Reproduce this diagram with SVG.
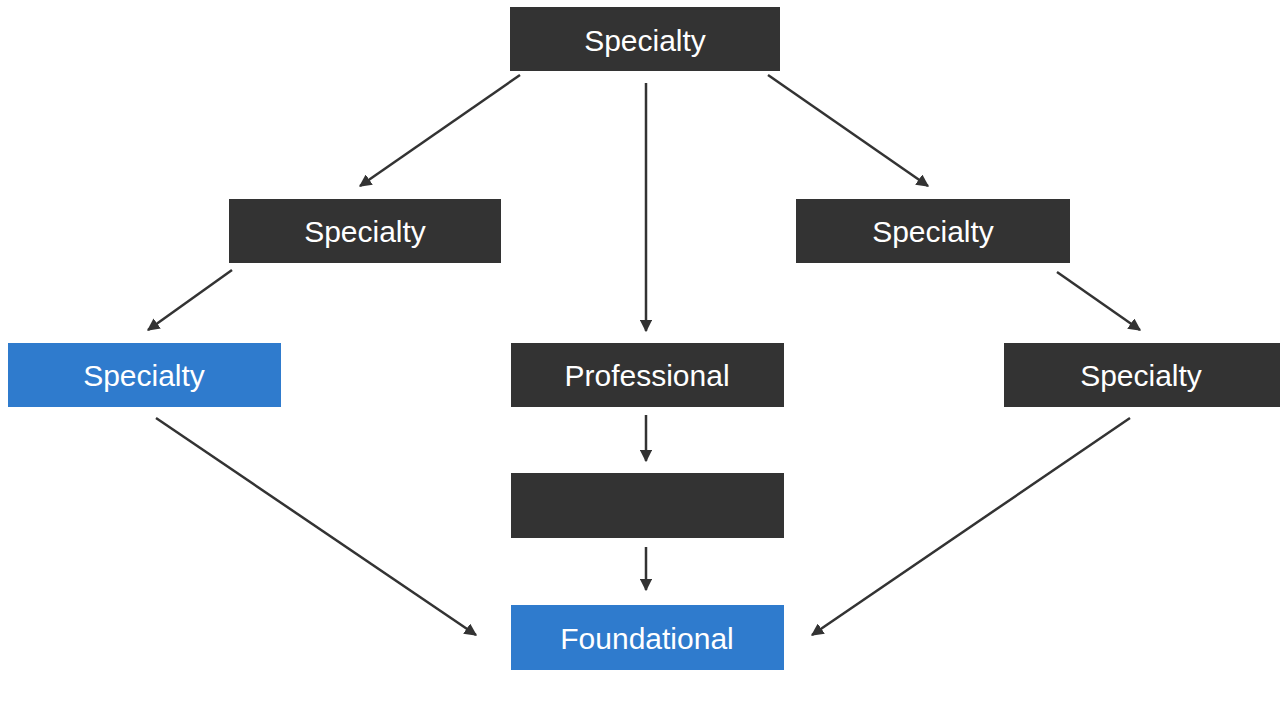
<svg xmlns="http://www.w3.org/2000/svg" width="1280" height="720" viewBox="0 0 1280 720">
<style>
.d{fill:#333333}.b{fill:#2f7bcd}
text{font-family:"Liberation Sans",Arial,sans-serif;font-size:30px;fill:#ffffff;text-anchor:middle;dominant-baseline:central}
.c line{stroke:#333333;stroke-width:2.5;marker-end:url(#a)}
</style>
<defs><marker id="a" viewBox="0 0 10 10" refX="9" refY="5" markerWidth="5" markerHeight="5" orient="auto"><path d="M0,0L10,5L0,10z" fill="#333333"/></marker></defs>
<rect width="1280" height="720" fill="#ffffff"/>
<g class="c">
<line x1="520" y1="75" x2="360" y2="186"/>
<line x1="646" y1="83" x2="646" y2="331"/>
<line x1="768" y1="75" x2="928" y2="186"/>
<line x1="232" y1="270" x2="148" y2="330"/>
<line x1="1057" y1="272" x2="1140" y2="330"/>
<line x1="646" y1="415" x2="646" y2="461"/>
<line x1="646" y1="547" x2="646" y2="590"/>
<line x1="156" y1="418" x2="476" y2="635"/>
<line x1="1130" y1="418" x2="812" y2="635"/>
</g>
<g id="n1"><rect class="d" x="510" y="7" width="270" height="64"/><text x="645" y="40">Specialty</text></g>
<g id="n2"><rect class="d" x="229" y="199" width="272" height="64"/><text x="365" y="231">Specialty</text></g>
<g id="n3"><rect class="d" x="796" y="199" width="274" height="64"/><text x="933" y="231">Specialty</text></g>
<g id="n4"><rect class="b" x="8" y="343" width="273" height="64"/><text x="144" y="375">Specialty</text></g>
<g id="n5"><rect class="d" x="511" y="343" width="273" height="64"/><text x="647" y="375">Professional</text></g>
<g id="n6"><rect class="d" x="1004" y="343" width="276" height="64"/><text x="1141" y="375">Specialty</text></g>
<g id="n7"><rect class="d" x="511" y="473" width="273" height="65"/></g>
<g id="n8"><rect class="b" x="511" y="605" width="273" height="65"/><text x="647" y="638">Foundational</text></g>
</svg>
